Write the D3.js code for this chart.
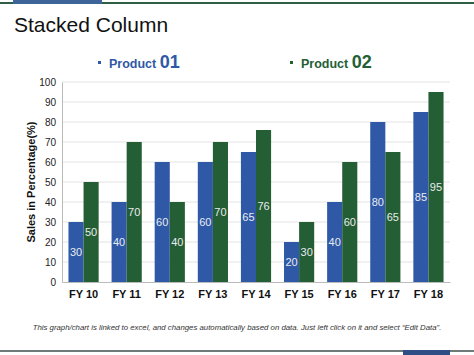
<!DOCTYPE html>
<html><head><meta charset="utf-8">
<script src="https://cdn.jsdelivr.net/npm/d3@7"></script>
<style>body{margin:0;background:#fff;}svg{display:block;font-family:"Liberation Sans",Arial,sans-serif;}</style>
</head><body>
<script>
const categories = ["FY 10","FY 11","FY 12","FY 13","FY 14","FY 15","FY 16","FY 17","FY 18"];
const product01 = [30,40,60,60,65,20,40,80,85];
const product02 = [50,70,40,70,76,30,60,65,95];
const yTicks = [0,10,20,30,40,50,60,70,80,90,100];
const seriesNames = ["01","02"];

const W=474,H=355;
const svg=d3.select("body").append("svg").attr("width",W).attr("height",H);
const blue="#2F58A6", green="#235E35";

// decorative lines
svg.append("rect").attr("x",0).attr("y",2).attr("width",W).attr("height",2).attr("fill","#2E5E45");
svg.append("rect").attr("x",13).attr("y",0).attr("width",89).attr("height",4).attr("fill","#3E6599");
svg.append("rect").attr("x",0).attr("y",350).attr("width",W).attr("height",2).attr("fill","#6E7B78");
svg.append("rect").attr("x",403).attr("y",350).attr("width",47).attr("height",5).attr("fill","#2F4E86");

svg.append("text").attr("x",14).attr("y",32).attr("font-size",21).attr("fill","#111").text("Stacked Column");

const m={l:62,r:450,t:82,b:282};
const x=d3.scaleBand().domain(categories).range([m.l,m.r]).paddingInner(0.3).paddingOuter(0.15);
const xs=d3.scaleBand().domain([0,1]).range([0,x.bandwidth()]);
const y=d3.scaleLinear().domain([0,100]).range([m.b,m.t]);

// gridlines
svg.append("g").selectAll("line").data(yTicks.slice(1)).join("line")
 .attr("x1",m.l).attr("x2",m.r).attr("y1",d=>y(d)).attr("y2",d=>y(d)).attr("stroke","#e3e3e3");

const yAxis=svg.append("g").attr("transform",`translate(${m.l},0)`).call(d3.axisLeft(y).tickValues(yTicks).tickSize(0).tickPadding(6));
yAxis.select(".domain").attr("stroke","#bbb");
yAxis.selectAll("text").attr("font-size",10).attr("fill","#222").attr("font-family","Liberation Sans, Arial");

const xAxis=svg.append("g").attr("transform",`translate(0,${m.b})`).call(d3.axisBottom(x).tickSize(0).tickPadding(8));
xAxis.select(".domain").attr("stroke","#bbb");
xAxis.selectAll("text").attr("font-size",11).attr("font-weight","bold").attr("fill","#111").attr("font-family","Liberation Sans, Arial");

const data=[product01,product02];
const colors=[blue,green];
data.forEach((vals,si)=>{
  const g=svg.append("g");
  g.selectAll("rect").data(vals).join("rect")
   .attr("x",(d,i)=>x(categories[i])+xs(si)).attr("width",xs.bandwidth())
   .attr("y",d=>y(d)).attr("height",d=>m.b-y(d)).attr("fill",colors[si]);
  g.selectAll("text").data(vals).join("text")
   .attr("x",(d,i)=>x(categories[i])+xs(si)+xs.bandwidth()/2)
   .attr("y",d=>(y(d)+m.b)/2+4).attr("text-anchor","middle")
   .attr("font-size",11).attr("fill","#e8ecef").text(d=>d);
});

svg.append("text").attr("transform",`translate(35,182) rotate(-90)`).attr("text-anchor","middle")
 .attr("font-size",11).attr("font-weight","bold").attr("fill","#111").text("Sales in Percentage(%)");

// legend
const legX=[98,290];
seriesNames.forEach((n,i)=>{
  svg.append("rect").attr("x",legX[i]).attr("y",61).attr("width",3).attr("height",3).attr("fill",colors[i]);
  const t=svg.append("text").attr("x",legX[i]+11).attr("y",68).attr("fill",colors[i]).attr("font-weight","bold");
  t.append("tspan").attr("font-size",12.5).text("Product ");
  t.append("tspan").attr("font-size",18).text(n);
});

svg.append("text").attr("x",237).attr("y",330).attr("text-anchor","middle").attr("font-size",7.8)
 .attr("font-style","italic").attr("fill","#333")
 .text("This graph/chart is linked to excel, and changes automatically based on data. Just left click on it and select “Edit Data”.");
</script>
</body></html>
